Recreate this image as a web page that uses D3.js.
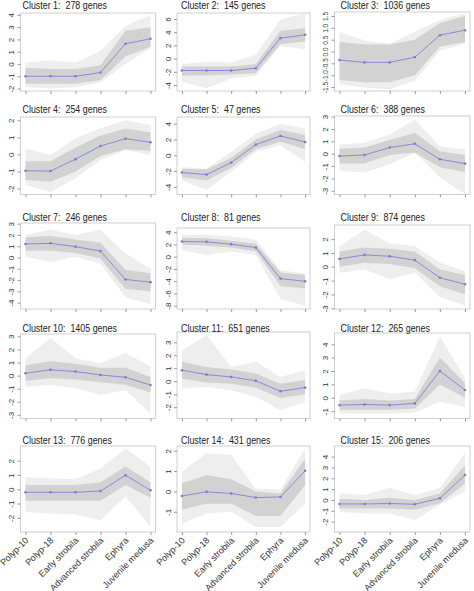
<!DOCTYPE html>
<html>
<head>
<meta charset="utf-8">
<script src="https://cdn.jsdelivr.net/npm/d3@7"></script>
<style>
  body { margin: 0; background: #fff; }
  svg { font-family: "Liberation Sans", Arial, sans-serif; }
</style>
</head>
<body>
<div id="chart"></div>
<script>
// developmental stages (x axis)
const stages = ["Polyp-10", "Polyp-18", "Early strobila", "Advanced strobila", "Ephyra", "Juvenile medusa"];

const clusterIds = [1, 2, 3, 4, 5, 6, 7, 8, 9, 10, 11, 12, 13, 14, 15];
const geneCounts = [278, 145, 1036, 254, 47, 388, 246, 81, 874, 1405, 651, 265, 776, 431, 206];

// mean profile of each cluster (blue line)
const meanProfiles = [
    [-1.0, -1.0, -1.0, -0.7, 1.65, 2.05],
    [-1.8, -1.8, -1.8, -1.45, 3.1, 3.6],
    [-0.36, -0.46, -0.46, -0.24, 0.69, 0.9],
    [-0.96, -0.98, -0.28, 0.49, 0.92, 0.71],
    [-2.19, -2.45, -0.93, 1.35, 2.45, 1.69],
    [-0.19, -0.1, 0.5, 0.8, -0.45, -0.8],
    [1.2, 1.26, 0.96, 0.57, -1.95, -2.19],
    [2.48, 2.42, 2.04, 1.49, -3.58, -4.02],
    [0.57, 0.86, 0.76, 0.48, -0.79, -1.26],
    [0.18, 0.44, 0.31, 0.05, -0.13, -0.72],
    [0.85, 0.51, 0.33, 0.03, -0.77, -0.49],
    [-0.55, -0.5, -0.55, -0.42, 2.0, 0.58],
    [-0.21, -0.21, -0.21, -0.12, 0.98, -0.07],
    [-0.22, -0.02, -0.1, -0.3, -0.27, 1.01],
    [-0.37, -0.37, -0.33, -0.4, 0.15, 2.3]
];

// spread of the single gene profiles (light outer envelope)
const outerLow = [
    [-1.9, -2.0, -1.9, -1.5, 0.0, 1.3],
    [-3.5, -4.5, -3.0, -2.6, 1.9, 1.4],
    [-1.37, -1.53, -1.6, -1.24, 0.04, 0.33],
    [-1.8, -2.2, -1.4, -0.33, 0.25, -0.05],
    [-3.16, -4.4, -2.1, 0.42, 1.27, -0.85],
    [-1.39, -1.52, -0.85, 0.08, -1.92, -3.25],
    [0.06, -0.4, 0.06, -0.54, -3.54, -4.14],
    [1.0, 0.28, 0.83, 0.28, -6.9, -8.0],
    [-0.43, -0.19, -0.9, -0.43, -2.2, -2.8],
    [-0.85, -0.72, -0.97, -1.49, -1.1, -2.9],
    [-0.56, -0.44, -0.69, -1.2, -2.23, -1.6],
    [-1.17, -1.2, -1.2, -1.1, -0.3, -0.68],
    [-1.59, -1.7, -1.75, -2.17, -0.5, -2.6],
    [-1.58, -1.08, -0.98, -1.74, -1.74, -0.6],
    [-1.1, -1.25, -1.25, -1.85, -0.45, 0.77]
];
const outerHigh = [
    [0.1, 0.3, 0.1, 1.06, 3.1, 4.0],
    [-0.8, -0.5, -0.6, 0.6, 5.9, 6.9],
    [0.83, 0.47, 0.33, 0.83, 1.33, 1.62],
    [0.35, -0.04, 0.94, 1.53, 2.0, 1.7],
    [-1.48, -1.7, 0.42, 2.74, 4.0, 3.4],
    [0.75, 0.88, 1.55, 2.75, 0.6, 0.35],
    [2.0, 2.46, 2.0, 2.46, 0.36, -1.0],
    [3.58, 3.58, 3.3, 2.75, -2.2, -2.75],
    [1.48, 2.67, 1.71, 1.48, 0.29, -0.31],
    [1.33, 2.87, 1.33, 0.95, 1.72, 0.69],
    [2.38, 3.54, 1.1, 1.49, 0.33, 0.85],
    [0.2, 0.7, 0.33, 0.45, 4.58, 1.45],
    [0.86, 0.75, 0.7, 1.45, 2.85, 1.56],
    [0.97, 1.87, 1.79, 0.15, 0.1, 2.1],
    [0.6, 0.45, 1.1, 0.45, 1.1, 4.35]
];

// dense core of the gene profiles (darker grey)
const coreLow = [
    [-1.6, -1.6, -1.6, -1.3, 0.6, 1.4],
    [-2.6, -2.5, -2.4, -2.2, 2.2, 2.6],
    [-1.2, -1.3, -1.3, -1.0, 0.2, 0.4],
    [-1.5, -1.6, -1.0, -0.1, 0.3, 0.2],
    [-2.8, -3.2, -1.6, 0.8, 1.7, 0.8],
    [-0.8, -0.8, -0.1, 0.1, -1.1, -1.5],
    [0.6, 0.6, 0.4, -0.1, -2.8, -3.0],
    [2.0, 1.8, 1.5, 0.9, -4.8, -5.2],
    [0.0, 0.3, 0.2, -0.1, -1.4, -2.0],
    [-0.4, -0.2, -0.3, -0.5, -0.7, -1.3],
    [0.2, -0.1, -0.2, -0.5, -1.3, -1.0],
    [-0.9, -0.9, -0.9, -0.8, 1.0, 0.0],
    [-0.8, -0.8, -0.8, -0.8, 0.3, -0.6],
    [-0.9, -0.6, -0.6, -1.2, -1.2, 0.3],
    [-0.8, -0.8, -0.8, -0.9, -0.3, 1.5]
];
const coreHigh = [
    [-0.3, -0.4, -0.4, -0.1, 2.7, 3.0],
    [-1.2, -1.2, -1.2, -0.8, 4.2, 4.6],
    [0.4, 0.3, 0.3, 0.5, 1.2, 1.5],
    [-0.4, -0.4, 0.4, 1.1, 1.5, 1.3],
    [-1.7, -1.8, -0.3, 2.0, 3.2, 2.6],
    [0.4, 0.5, 1.1, 1.7, 0.2, -0.1],
    [1.8, 1.9, 1.6, 1.3, -1.1, -1.4],
    [3.1, 3.0, 2.6, 2.1, -2.6, -3.0],
    [1.1, 1.4, 1.3, 1.1, -0.2, -0.6],
    [0.8, 1.1, 0.9, 0.6, 0.6, -0.1],
    [1.5, 1.1, 0.9, 0.6, -0.2, 0.1],
    [-0.2, -0.1, -0.2, -0.1, 3.0, 1.1],
    [0.3, 0.3, 0.3, 0.5, 1.6, 0.5],
    [0.4, 0.8, 0.6, 0.0, -0.1, 1.6],
    [0.1, 0.0, 0.2, 0.0, 0.6, 3.2]
];

// y range and ticks of each panel
const yDomains = [
    [-2.2, 4.15], [-4.9, 6.9], [-1.67, 1.67],
    [-2.35, 2.19], [-4.97, 4.85], [-3.3, 3.05],
    [-4.57, 3.06], [-8.54, 4.68], [-3.05, 3.02],
    [-3.28, 3.18], [-2.87, 3.79], [-1.55, 4.84],
    [-2.99, 3.03], [-1.99, 2.23], [-2.96, 4.98]
];
const yTicks = [
    [-2, -1, 0, 1, 2, 3, 4], [-4, -2, 0, 2, 4, 6], [-1.5, -1, -0.5, 0, 0.5, 1, 1.5],
    [-2, -1, 0, 1, 2], [-4, -2, 0, 2, 4], [-3, -2, -1, 0, 1, 2, 3],
    [-4, -3, -2, -1, 0, 1, 2, 3], [-8, -6, -4, -2, 0, 2, 4], [-3, -2, -1, 0, 1, 2],
    [-3, -2, -1, 0, 1, 2, 3], [-2, -1, 0, 1, 2, 3], [-1, 0, 1, 2, 3, 4],
    [-2, -1, 0, 1, 2], [-1, 0, 1, 2], [-2, -1, 0, 1, 2, 3, 4]
];

// layout of the 5 x 3 grid
const colLeft = [20.5, 177, 334.5];
const colRight = [155.5, 310, 470];
const boxTop = [[13, 13, 12], [117, 117, 116], [223, 228, 225], [334, 332, 333], [446, 446, 446]];
const rowBottom = [91, 194.5, 309, 418.5, 532];
const titleX = [22.5, 181, 340.5];
const titleY = [9, 112.5, 220.5, 331.5, 444];

const svg = d3.select("#chart").append("svg")
    .attr("width", 474)
    .attr("height", 591);

const fmt = d => Number.isInteger(d) ? String(d) : d.toFixed(1);

clusterIds.forEach((id, i) => {
    const r = Math.floor(i / 3), c = i % 3;
    const left = colLeft[c], right = colRight[c];
    const top = boxTop[r][c], bottom = rowBottom[r];

    const x = d3.scaleLinear().domain([0.8, 6.2]).range([left, right]);
    const y = d3.scaleLinear().domain(yDomains[i]).range([bottom, top]);

    // cluster 3 has half-unit ticks, all with one decimal
    const tickFmt = id === 3 ? d => d.toFixed(1) : fmt;

    const g = svg.append("g").attr("class", "panel");

    const area = d3.area()
        .x((d, j) => x(j + 1))
        .y0(d => y(d[0]))
        .y1(d => y(d[1]));

    g.append("path")
        .attr("d", area(d3.zip(outerLow[i], outerHigh[i])))
        .attr("fill", "#eeeeee");

    g.append("path")
        .attr("d", area(d3.zip(coreLow[i], coreHigh[i])))
        .attr("fill", "#d2d2d2");

    const line = d3.line().x((d, j) => x(j + 1)).y(d => y(d));
    g.append("path")
        .attr("d", line(meanProfiles[i]))
        .attr("fill", "none")
        .attr("stroke", "#8a8ad8")
        .attr("stroke-width", 1);

    g.selectAll("circle.mean")
        .data(meanProfiles[i])
        .enter().append("circle")
        .attr("class", "mean")
        .attr("cx", (d, j) => x(j + 1))
        .attr("cy", d => y(d))
        .attr("r", 1.3)
        .attr("fill", "#7c7cce");

    // frame
    g.append("rect")
        .attr("x", left).attr("y", top)
        .attr("width", right - left).attr("height", bottom - top)
        .attr("fill", "none")
        .attr("stroke", "#c4c4c4")
        .attr("stroke-width", 0.8);

    // y axis, labels rotated like R's las=0
    const yAxis = g.append("g")
        .attr("transform", `translate(${left},0)`)
        .call(d3.axisLeft(y).tickValues(yTicks[i]).tickSize(3).tickFormat(tickFmt));
    yAxis.select(".domain").remove();
    yAxis.selectAll(".tick line").attr("stroke", "#999");
    yAxis.selectAll(".tick text")
        .attr("x", null).attr("dy", null)
        .attr("text-anchor", "middle")
        .attr("transform", "translate(-6.5,0) rotate(-90)")
        .attr("font-size", id === 3 ? 6.5 : 8)
        .attr("fill", "#333");

    // x axis, stage names only on the bottom row
    const xAxis = g.append("g")
        .attr("transform", `translate(0,${bottom})`)
        .call(d3.axisBottom(x).tickValues([1, 2, 3, 4, 5, 6]).tickSize(3)
            .tickFormat(d => r === 4 ? stages[d - 1] : ""));
    xAxis.select(".domain").remove();
    xAxis.selectAll(".tick line").attr("stroke", "#999");
    xAxis.selectAll(".tick text")
        .attr("y", null).attr("dy", null)
        .attr("text-anchor", "end")
        .attr("transform", "translate(3,9) rotate(-45)")
        .attr("font-size", 9)
        .attr("fill", "#333");

    // title
    g.append("text")
        .attr("transform", `translate(${titleX[c]},${titleY[r]}) scale(0.89,1)`)
        .attr("font-size", 10)
        .attr("fill", "#222")
        .style("white-space", "pre")
        .text(`Cluster ${id}:  ${geneCounts[i]} genes`);
});
</script>
</body>
</html>
